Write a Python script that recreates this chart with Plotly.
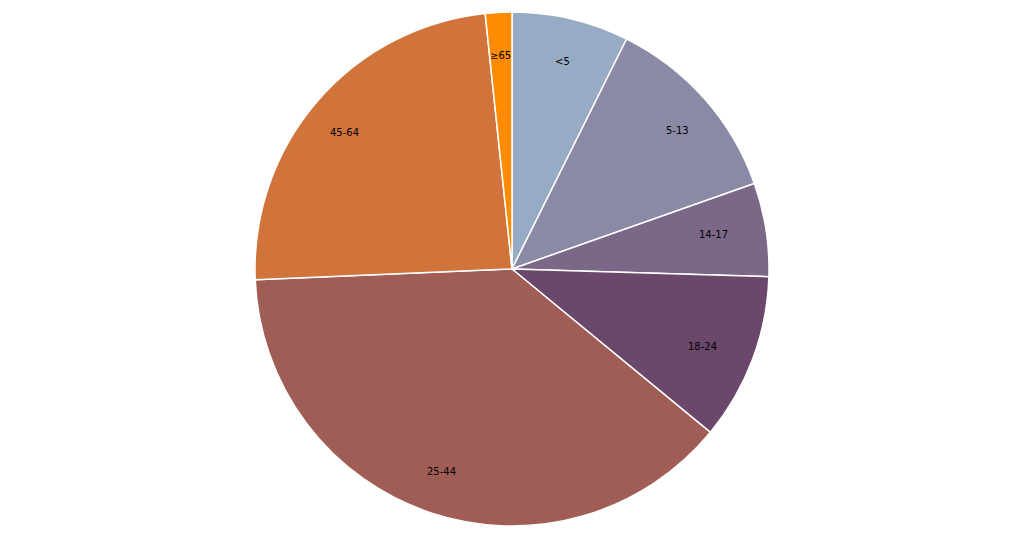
import math
import plotly.graph_objects as go

# Age groups and population
age = ["<5", "5-13", "14-17", "18-24", "25-44", "45-64", "≥65"]
population = [2704659, 4499890, 2159981, 3853788, 14106543, 8819342, 612463]
colors = ["#98abc5", "#8a89a6", "#7b6888", "#6b486b", "#a05d56", "#d0743c", "#ff8c00"]

W, H = 1024, 537
ml, mr, mt, mb = 0, 16, 4, 19
pw, ph = W - ml - mr, H - mt - mb
radius = min(pw, ph) / 2

fig = go.Figure(go.Pie(
    labels=age, values=population,
    sort=False, direction="clockwise", rotation=0,
    marker=dict(colors=colors, line=dict(color="white", width=1.5)),
    textinfo="none", hoverinfo="label+value",
))

# labels placed along each slice's mid-angle, like an arc centroid
total = sum(population)
cum = 0
for name, v in zip(age, population):
    mid = (cum + v / 2) / total * 2 * math.pi
    cum += v
    r = radius * 0.86
    fig.add_annotation(
        x=(pw / 2 + r * math.sin(mid)) / pw, y=(ph / 2 + r * math.cos(mid)) / ph,
        xref="paper", yref="paper", text=name, showarrow=False,
        font=dict(family="DejaVu Sans", size=10, color="black"),
    )

fig.update_layout(
    width=W, height=H, showlegend=False,
    margin=dict(l=ml, r=mr, t=mt, b=mb),
    paper_bgcolor="white",
)
fig.write_html("out.html")
